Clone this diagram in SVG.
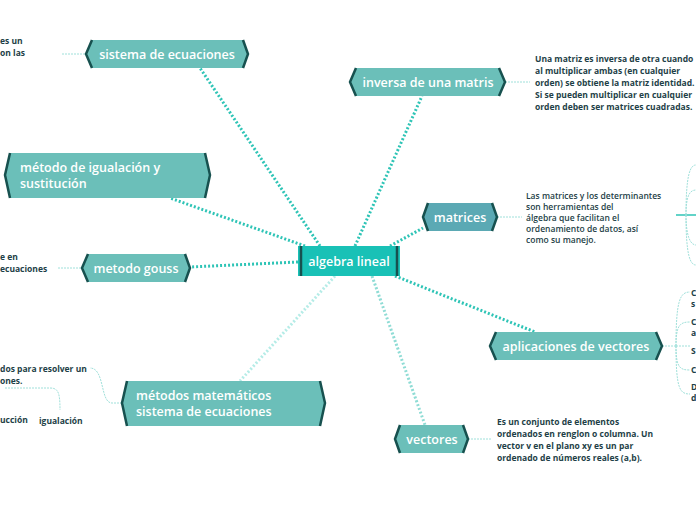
<svg xmlns="http://www.w3.org/2000/svg" width="696" height="520" viewBox="0 0 696 520">
<style>
.n{fill:#6bbfb9}
.e{fill:none;stroke:#17514f;stroke-width:2.5}
.t{font-family:"Open Sans","Noto Sans",sans-serif;font-weight:600;fill:#fff;font-size:12.5px}
.s{font-family:"Open Sans","Noto Sans",sans-serif;font-weight:700;fill:#1e3f47;font-size:8.5px}
.c{fill:none;stroke:#2ec4b6;stroke-width:3;stroke-dasharray:2 2}
.l{fill:none;stroke:#9fe0da;stroke-width:1;stroke-dasharray:2 1}
</style>
<rect width="696" height="520" fill="#fff"/>
<g id="connectors">
<path class="c" d="M320 246L200 68"/>
<path class="c" d="M355 246L422 96"/>
<path class="c" d="M305 246L170 198"/>
<path class="c" d="M390 246L423 228"/>
<path class="c" d="M298 262L190 267"/>
<path class="c" d="M395 276L535 332"/>
<path class="c" d="M335 276L240 381" style="stroke:#b5ece7"/>
<path class="c" d="M372 276L425 425" style="stroke:#8fdcd5"/>
<path class="l" d="M62 54H86"/>
<path class="l" d="M505 82H530"/>
<path class="l" d="M497 217H522"/>
<path class="l" d="M58 268H82"/>
<path class="l" d="M468 439H492"/>
<path class="l" d="M662 346H676M676 346C676 300 680 292 690 292M676 346C676 325 680 322 690 322M676 346H690M676 346C676 368 680 370 690 370M676 346C676 390 680 394 690 394" />
<path d="M676 215H696" stroke="#2ec4b6" stroke-width="1.5"/>
<path class="l" d="M686 215C686 175 690 165 696 165M686 215C686 195 690 190 696 190M686 215C686 235 690 245 696 245M686 215C686 255 690 265 696 265"/>
<path class="l" d="M122 403H112C100 403 105 368 90 368M5 388H50C58 388 60 392 60 410"/>
</g>
<g id="central"><rect x="298" y="246" width="102" height="30" fill="#19c1b6"/><path class="e" d="M301 246V276M397 246V276" stroke-width="4"/><text class="t" x="349" y="266" text-anchor="middle">algebra lineal</text></g>
<g id="sistema"><polygon class="n" points="92,40 243,40 248,54 243,68 92,68 86,54"/><path class="e" d="M92 40L86 54L92 68M243 40L248 54L243 68"/><text class="t" x="167" y="59" text-anchor="middle">sistema de ecuaciones</text>
<text class="s" x="0" y="44">es un</text><text class="s" x="0" y="56">on las</text></g>
<g id="inversa"><polygon class="n" points="356,68 499,68 505,82 499,96 356,96 350,82"/><path class="e" d="M356 68L350 82L356 96M499 68L505 82L499 96"/><text class="t" x="428" y="87" text-anchor="middle">inversa de una matris</text>
<text class="s" x="535" y="62">Una matriz es inversa de otra cuando</text><text class="s" x="535" y="74">al multiplicar ambas (en cualquier</text><text class="s" x="535" y="86">orden) se obtiene la matriz identidad.</text><text class="s" x="535" y="98">Si se pueden multiplicar en cualquier</text><text class="s" x="535" y="110">orden deben ser matrices cuadradas.</text></g>
<g id="igualacion"><polygon class="n" points="10,153 205,153 210,175 205,198 10,198 5,175"/><path class="e" d="M10 153L5 175L10 198M205 153L210 175L205 198"/><text class="t" x="20" y="172">método de igualación y</text><text class="t" x="20" y="188">sustitución</text></g>
<g id="matrices"><polygon points="428,203 492,203 497,217 492,231 428,231 423,217" fill="#5ba9b4"/><path class="e" d="M428 203L423 217L428 231M492 203L497 217L492 231"/><text class="t" x="460" y="222" text-anchor="middle">matrices</text>
<text class="s" x="526" y="199" style="font-weight:600">Las matrices y los determinantes</text><text class="s" x="526" y="210" style="font-weight:600">son herramientas del</text><text class="s" x="526" y="221" style="font-weight:600">álgebra que facilitan el</text><text class="s" x="526" y="232" style="font-weight:600">ordenamiento de datos, así</text><text class="s" x="526" y="243" style="font-weight:600">como su manejo.</text></g>
<g id="gouss"><polygon class="n" points="88,254 185,254 190,268 185,282 88,282 82,268"/><path class="e" d="M88 254L82 268L88 282M185 254L190 268L185 282"/><text class="t" x="136" y="273" text-anchor="middle">metodo gouss</text>
<text class="s" x="0" y="260">e en</text><text class="s" x="0" y="272">ecuaciones</text></g>
<g id="aplicaciones"><polygon class="n" points="496,332 656,332 662,346 656,360 496,360 490,346"/><path class="e" d="M496 332L490 346L496 360M656 332L662 346L656 360"/><text class="t" x="576" y="351" text-anchor="middle">aplicaciones de vectores</text>
<text class="s" x="691" y="296">C</text><text class="s" x="691" y="307">s</text><text class="s" x="691" y="325">C</text><text class="s" x="691" y="336">a</text><text class="s" x="691" y="354">S</text><text class="s" x="691" y="373">C</text><text class="s" x="691" y="390">D</text><text class="s" x="691" y="401">d</text></g>
<g id="metodos"><polygon class="n" points="127,381 320,381 325,403 320,426 127,426 122,403"/><path class="e" d="M127 381L122 403L127 426M320 381L325 403L320 426"/><text class="t" x="136" y="400">métodos matemáticos</text><text class="t" x="136" y="416">sistema de ecuaciones</text>
<text class="s" x="0" y="372">dos para resolver un</text><text class="s" x="0" y="384">ones.</text><text class="s" x="0" y="423">ucción</text><text class="s" x="39" y="424">igualación</text></g>
<g id="vectores"><polygon class="n" points="400,425 463,425 468,439 463,453 400,453 395,439"/><path class="e" d="M400 425L395 439L400 453M463 425L468 439L463 453"/><text class="t" x="432" y="444" text-anchor="middle">vectores</text>
<text class="s" x="497" y="425"> Es un conjunto de elementos</text><text class="s" x="497" y="437">ordenados en renglon o columna. Un</text><text class="s" x="497" y="449">vector v en el plano xy es un par</text><text class="s" x="497" y="461">ordenado de números reales (a,b).</text></g>
</svg>
